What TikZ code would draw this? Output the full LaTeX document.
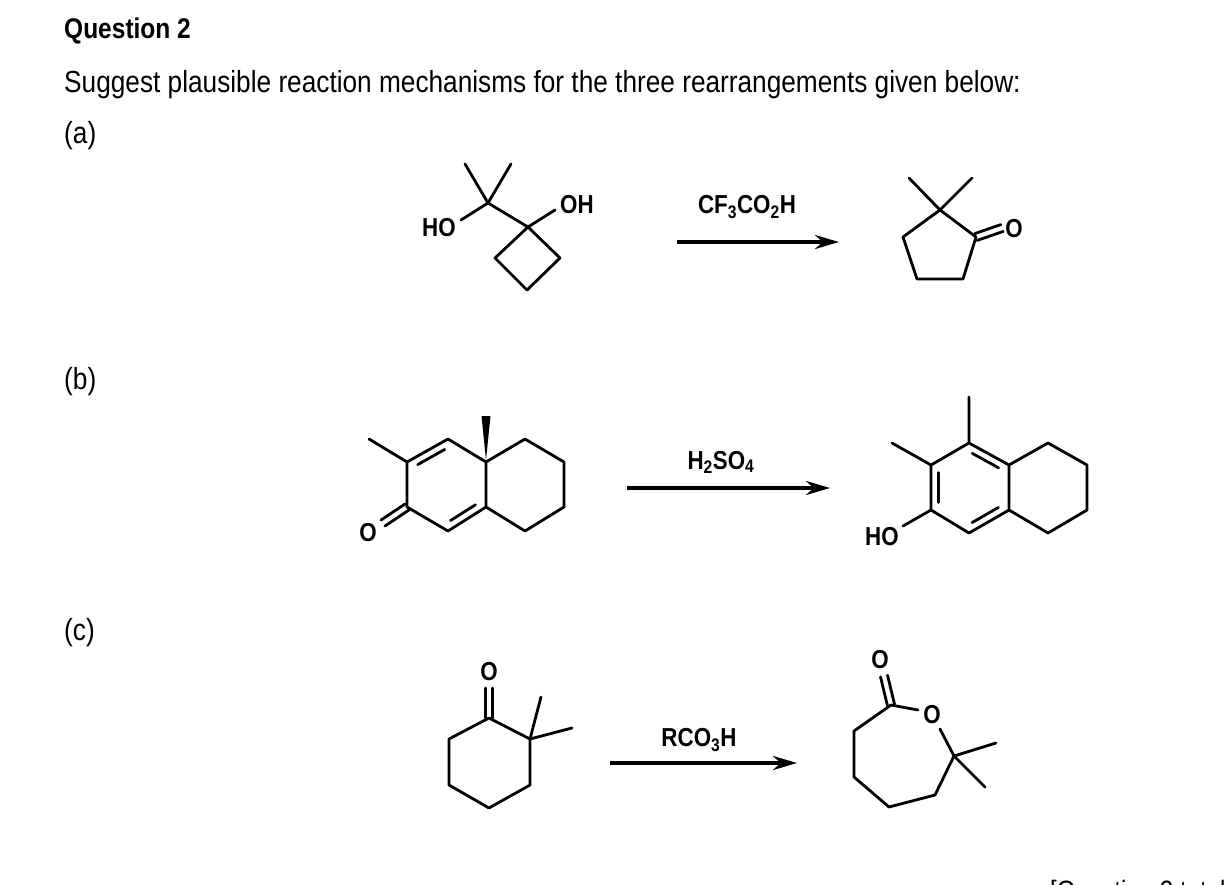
\documentclass[tikz,border=0pt]{standalone}
\usepackage{fontspec}
\setmainfont{Liberation Sans}[FakeStretch=0.86]
\usetikzlibrary{calc,arrows.meta}
\tikzset{bond/.style={line width=2.8pt,line cap=round,line join=round},
 lab/.style={font=\fontsize{26}{26}\selectfont\bfseries,inner sep=0pt},
 txt/.style={font=\fontsize{30.5}{32}\selectfont,inner sep=0pt,anchor=west},
 rarrow/.style={line width=3.8pt,-{Stealth[length=24pt,width=14pt]}}}
\newcommand\inbond[3]{\draw[bond] ($($(#1)!.17!(#2)$)!#3!90:(#2)$) -- ($($(#2)!.17!(#1)$)!#3!-90:(#1)$);}
\newcommand\dbond[2]{\draw[bond] ($(#1)!3.6pt!90:(#2)$) -- ($(#2)!3.6pt!-90:(#1)$); \draw[bond] ($(#1)!3.6pt!-90:(#2)$) -- ($(#2)!3.6pt!90:(#1)$);}
\begin{document}
\begin{tikzpicture}[x=1pt,y=-1pt]
\useasboundingbox (0,0) rectangle (1226,884);
\clip (0,0) rectangle (1226,884);
\node[txt,font=\fontsize{28.5}{30}\selectfont\bfseries] (q) at (64,31) {Question 2};
\node[txt] (s) at (64,85) {Suggest plausible reaction mechanisms for the three rearrangements given below:};
\node[txt] (pa) at (64,136) {(a)};
\node[txt] (pb) at (64,382) {(b)};
\node[txt] (pc) at (64,633) {(c)};
\node[txt,font=\fontsize{28}{30}\selectfont] (foot) at (1050,893) {[Question 2 total};
% (a) reactant
\coordinate (m1) at (465,164); \coordinate (m2) at (511,164);
\coordinate (c1) at (488,203); \coordinate (c2) at (528,227);
\coordinate (ho) at (461,220); \coordinate (oh) at (555,210);
\coordinate (r1) at (495,258); \coordinate (r2) at (527,290); \coordinate (r3) at (560,258);
\node[lab] (HOa) at (439,228) {HO};
\node[lab] (OHa) at (577,205) {OH};
\draw[bond] (m1)--(c1)--(m2) (ho)--(c1)--(c2)--(oh) (c2)--(r1)--(r2)--(r3)--(c2);
\coordinate (a1) at (677,242); \coordinate (a2) at (839,242);
\draw[rarrow] (a1)--(a2);
\node[lab] (ra) at (747,207) {CF\textsubscript{3}CO\textsubscript{2}H};
% (a) product
\coordinate (pm1) at (909,178); \coordinate (pm2) at (972,178);
\coordinate (pq) at (940,210); \coordinate (p1) at (903,237); \coordinate (p2) at (917,279);
\coordinate (p3) at (963,279); \coordinate (p4) at (976,237); \coordinate (po) at (1002,228);
\node[lab] (Oa) at (1014,229) {O};
\draw[bond] (pm1)--(pq)--(pm2) (pq)--(p1)--(p2)--(p3)--(p4)--(pq);
\dbond{p4}{po}
% (b) reactant
\coordinate (bm) at (369,439); \coordinate (b3) at (407,462); \coordinate (b4) at (448,439);
\coordinate (b4a) at (486,462); \coordinate (b5) at (525,439); \coordinate (b6) at (564,462);
\coordinate (b7) at (564,507); \coordinate (b8) at (525,531); \coordinate (b8a) at (486,507);
\coordinate (b1) at (448,531); \coordinate (b2) at (407,507); \coordinate (bo) at (383,523);
\node[lab] (Ob) at (368,533) {O};
\draw[bond] (bm)--(b3)--(b4)--(b4a)--(b5)--(b6)--(b7)--(b8)--(b8a)--(b1)--(b2)--(b3) (b4a)--(b8a);
\inbond{b3}{b4}{-7.5pt}
\inbond{b1}{b8a}{7.5pt}
\dbond{b2}{bo}
\fill ($(b4a)+(0,-2)$) -- ($(486,416)+(-4.5,0)$) -- ($(486,416)+(4.5,0)$) -- cycle;
\coordinate (a3) at (627,488); \coordinate (a4) at (830,488);
\draw[rarrow] (a3)--(a4);
\node[lab] (rb) at (721,462) {H\textsubscript{2}SO\textsubscript{4}};
% (b) product
\coordinate (qm1) at (969,397); \coordinate (qt) at (969,443); \coordinate (qul) at (931,465);
\coordinate (qm2) at (892,443); \coordinate (qll) at (931,510); \coordinate (qho) at (903,526);
\coordinate (qb) at (969,533); \coordinate (qfl) at (1009,510); \coordinate (qfu) at (1009,465);
\coordinate (q5) at (1048,443); \coordinate (q6) at (1087,465); \coordinate (q7) at (1087,510); \coordinate (q8) at (1048,533);
\node[lab] (HOb) at (882,537) {HO};
\draw[bond] (qm1)--(qt)--(qfu)--(qfl)--(qb)--(qll)--(qul)--(qt) (qul)--(qm2) (qll)--(qho)
 (qfu)--(q5)--(q6)--(q7)--(q8)--(qfl);
\inbond{qt}{qfu}{-7.5pt}
\inbond{qul}{qll}{7.5pt}
\inbond{qb}{qfl}{7.5pt}
% (c) reactant
\node[lab] (Oc) at (489,672) {O};
\coordinate (co) at (489,688); \coordinate (k1) at (489,718); \coordinate (k2) at (530,739);
\coordinate (k3) at (530,785); \coordinate (k4) at (489,808); \coordinate (k5) at (449,785); \coordinate (k6) at (449,739);
\coordinate (km1) at (541,697); \coordinate (km2) at (572,728);
\draw[bond] (k1)--(k2)--(k3)--(k4)--(k5)--(k6)--(k1) (km1)--(k2)--(km2);
\dbond{k1}{co}
\coordinate (a5) at (610,763); \coordinate (a6) at (797,763);
\draw[rarrow] (a5)--(a6);
\node[lab] (rc) at (699,740) {RCO\textsubscript{3}H};
% (c) product
\node[lab] (Oc2) at (880,660) {O};
\node[lab] (Or) at (932,715) {O};
\coordinate (lco) at (884,676); \coordinate (l1) at (891,705); \coordinate (loa) at (918,710);
\coordinate (lob) at (940,729); \coordinate (lq) at (954,756);
\coordinate (l3) at (935,795); \coordinate (l4) at (889,807); \coordinate (l5) at (854,777); \coordinate (l6) at (854,731);
\coordinate (lm1) at (996,743); \coordinate (lm2) at (985,787);
\draw[bond] (l1)--(loa) (lob)--(lq)--(l3)--(l4)--(l5)--(l6)--(l1) (lm1)--(lq)--(lm2);
\dbond{l1}{lco}
\end{tikzpicture}
\end{document}
